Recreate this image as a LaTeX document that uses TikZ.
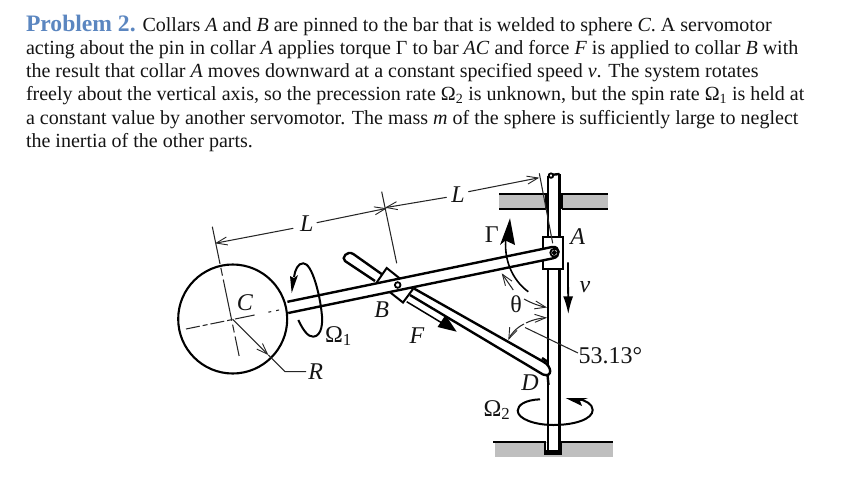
\documentclass[tikz,border=0pt]{standalone}
\usepackage{fontspec}
\setmainfont{Liberation Serif}
\usetikzlibrary{arrows.meta}
\definecolor{headblue}{HTML}{5B86C0}
\definecolor{groundgray}{HTML}{BFBFBF}
\definecolor{inkc}{HTML}{141414}
\tikzset{
 x=1pt,y=-1pt,
 txt/.style={anchor=base west,inner sep=0,outer sep=0,font=\fontsize{20.03}{22}\selectfont,text=inkc},
 lab/.style={inner sep=0,outer sep=0,font=\fontsize{24}{26}\selectfont,text=inkc},
 thick line/.style={line width=2.4pt,black},
 med line/.style={line width=1.8pt,black},
 thin line/.style={line width=1.05pt,black!85},
 open/.style={-{Straight Barb[length=11pt,width=8pt,line width=.9pt]}},
 filled/.style={-{Latex[length=18pt,width=10pt]}},
}
\begin{document}
\begin{tikzpicture}
\useasboundingbox (0,0) rectangle (864,482);
% text
\node[txt] (t1) at (26,31.5) {\fontsize{23.6}{25}\selectfont\bfseries\color{headblue}Problem 2.};
\node[txt] (t1b) at (142.5,31.5) {Collars \textit{A} and \textit{B} are pinned to the bar that is welded to sphere \textit{C}. A servomotor};
\node[txt] (t2) at (26,54.5) {acting about the pin in collar \textit{A} applies torque Γ to bar \textit{AC} and force \textit{F} is applied to collar \textit{B} with};
\node[txt] (t3) at (26,77.5) {the result that collar \textit{A} moves downward at a constant specified speed \textit{v}. The system rotates};
\node[txt] (t4) at (26,100.5) {freely about the vertical axis, so the precession rate Ω\textsubscript{2} is unknown, but the spin rate Ω\textsubscript{1} is held at};
\node[txt] (t5) at (26,124) {a constant value by another servomotor. The mass \textit{m} of the sphere is sufficiently large to neglect};
\node[txt] (t6) at (26,147) {the inertia of the other parts.};
% grounds
\fill[groundgray] (499,193) rectangle (546,209);
\fill[groundgray] (562,193) rectangle (608,209);
\draw[med line] (499,194) -- (546,194) (499,209) -- (546,209) (562,194) -- (608,194) (562,209) -- (608,209);
\draw[line width=2pt] (546,193) -- (546,209) (562,193) -- (562,209);
\fill[groundgray] (495,442) rectangle (613,457);
\draw[med line] (493,442) -- (545,442) -- (545,454) -- (561,454) -- (561,442) -- (613,442);
\fill[white] (546,443) rectangle (560,453);
\fill[black] (546,450) rectangle (560,454);
% shaft
\fill[white] (548.2,172) rectangle (559.6,450);
\draw[thick line] (548.2,176) -- (548.2,452) (559.6,174) -- (559.6,452);
\draw[thick line] (548.2,175) -- (555,174.5) -- (559.6,174);
\draw[med line,fill=white] (551,175.6) circle (2.2);
% sphere
\draw[line width=2.1pt] (232.7,319) circle (54.5);
% axes
\draw[thin line,dash pattern=on 38pt off 4pt on 8pt off 4pt on 42pt off 4pt on 8pt off 4pt on 20pt] (212.3,226.7) -- (241,365);
\draw[thin line,dash pattern=on 14pt off 3pt on 5pt off 3pt on 14pt off 3pt on 5pt off 3pt on 20pt] (186,329) -- (284,309);
\coordinate (C) at (232.5,319);
% R
\draw[thin line,open] (C) -- (268.3,355);
\draw[thin line] (268.3,355) -- (285,371.7) -- (306,371.7);
% rod upper
\draw[thick line,fill=white] (383,275) -- (353.3,254) .. controls (347,250) and (341,258) .. (345,261) -- (375,281);
% rod lower
\draw[thick line,fill=white] (414,288.5) -- (543.3,361.7) .. controls (552,366) and (553,378) .. (543,374.5) -- (410,295);
\draw[thick line] (542,358) -- (548,362);
\draw[thick line] (547.5,375) -- (548.5,385);
% collar B
\draw[line width=2pt,fill=white] (386.7,268) -- (377,282) -- (403,302.5) -- (413,289) -- cycle;
% collar A
\draw[line width=2pt,fill=white] (542.7,236.7) rectangle (563.3,269);
% bar
\draw[thick line,fill=white] (287.4,301.8) -- (552,247) .. controls (560,245.5) and (561,257) .. (553,258.3) -- (288.2,313);
\draw[med line,fill=white] (554.3,252.7) circle (4);
\draw[med line] (554.3,252.7) circle (1.6);
\draw[med line,fill=white] (397.7,285) circle (2.8);
% dimension L
\draw[thin line,open] (293.3,228.3) -- (215,243.3);
\draw[thin line,open] (316.7,222.7) -- (386.7,208.3);
\draw[thin line,open] (446.7,197.3) -- (385,207.7);
\draw[thin line,open] (468.3,191.7) -- (539.3,177.7);
\draw[thin line] (381.7,191.7) -- (396.7,263.3);
\draw[thin line] (539.3,173.3) -- (552.7,243.3);
% Gamma arc
\draw[line width=1.6pt,black] (528.3,291.7) .. controls (516,283) and (504,265) .. (505.7,240);
\fill[black] (510,218.3) -- (515,245) -- (505.5,240.5) -- (500,245) -- cycle;
% theta
\draw[thin line,open] (513.3,290) -- (501.7,273.3);
\draw[thin line,open] (524,299) .. controls (533,304) and (540,306) .. (547,307.5);
% angle
\draw[thin line,open] (526,323) .. controls (533,319.5) and (541,318) .. (547,317.7);
\draw[thin line,open] (524,324) .. controls (516,328) and (511,334) .. (508.3,340);
\draw[thin line] (525,327.5) -- (578,353);
% F arrow
\draw[line width=1.5pt] (406.7,301.7) -- (442,323);
\fill[black] (456.7,331.7) -- (437.5,327) -- (445.5,315) -- cycle;
% v
\draw[line width=1.8pt,filled] (567.9,262.3) -- (568.3,314.3);
% Omega1
\draw[line width=2pt] (298.3,320) .. controls (303,330) and (308,337) .. (313.3,336.7) .. controls (322,336) and (323,322) .. (321.7,313.3) .. controls (320,295) and (312,263) .. (303.3,263.3) .. controls (298,263) and (295,270) .. (294,277);
\fill[black] (291.7,293) -- (290,276) -- (294,278) -- (298,275) -- cycle;
% Omega2
\draw[line width=2pt] (540,399.3) .. controls (525,400) and (517.7,405) .. (517.7,410.7) .. controls (517.7,419) and (535,425) .. (553.3,425) .. controls (575,425) and (592.7,419) .. (592.7,410) .. controls (592.7,404) and (585,400) .. (578,399);
\fill[black] (565.5,398) -- (588,398) -- (580,401) -- (582,406) -- cycle;
% labels
\node[lab] (lL1) at (306.7,224) {\textit{L}};
\node[lab] (lL2) at (458,195) {\textit{L}};
\node[lab] (lC) at (245,303) {\textit{C}};
\node[lab] (lB) at (381.7,310) {\textit{B}};
\node[lab] (lF) at (417,336) {\textit{F}};
\node[lab] (lR) at (315.7,372) {\textit{R}};
\node[lab,anchor=west] (lO1) at (325,336) {Ω\textsubscript{1}};
\node[lab] (lO2) at (497,410) {Ω\textsubscript{2}};
\node[lab] (lG) at (491.7,235) {Γ};
\node[lab] (lA) at (577.7,237) {\textit{A}};
\node[lab] (lv) at (585,287) {\textit{v}};
\node[lab] (lth) at (516,304) {θ};
\node[lab] (lD) at (530,383) {\textit{D}};
\node[lab,anchor=west] (l53) at (578.5,356) {53.13\textdegree};
\end{tikzpicture}
\end{document}
